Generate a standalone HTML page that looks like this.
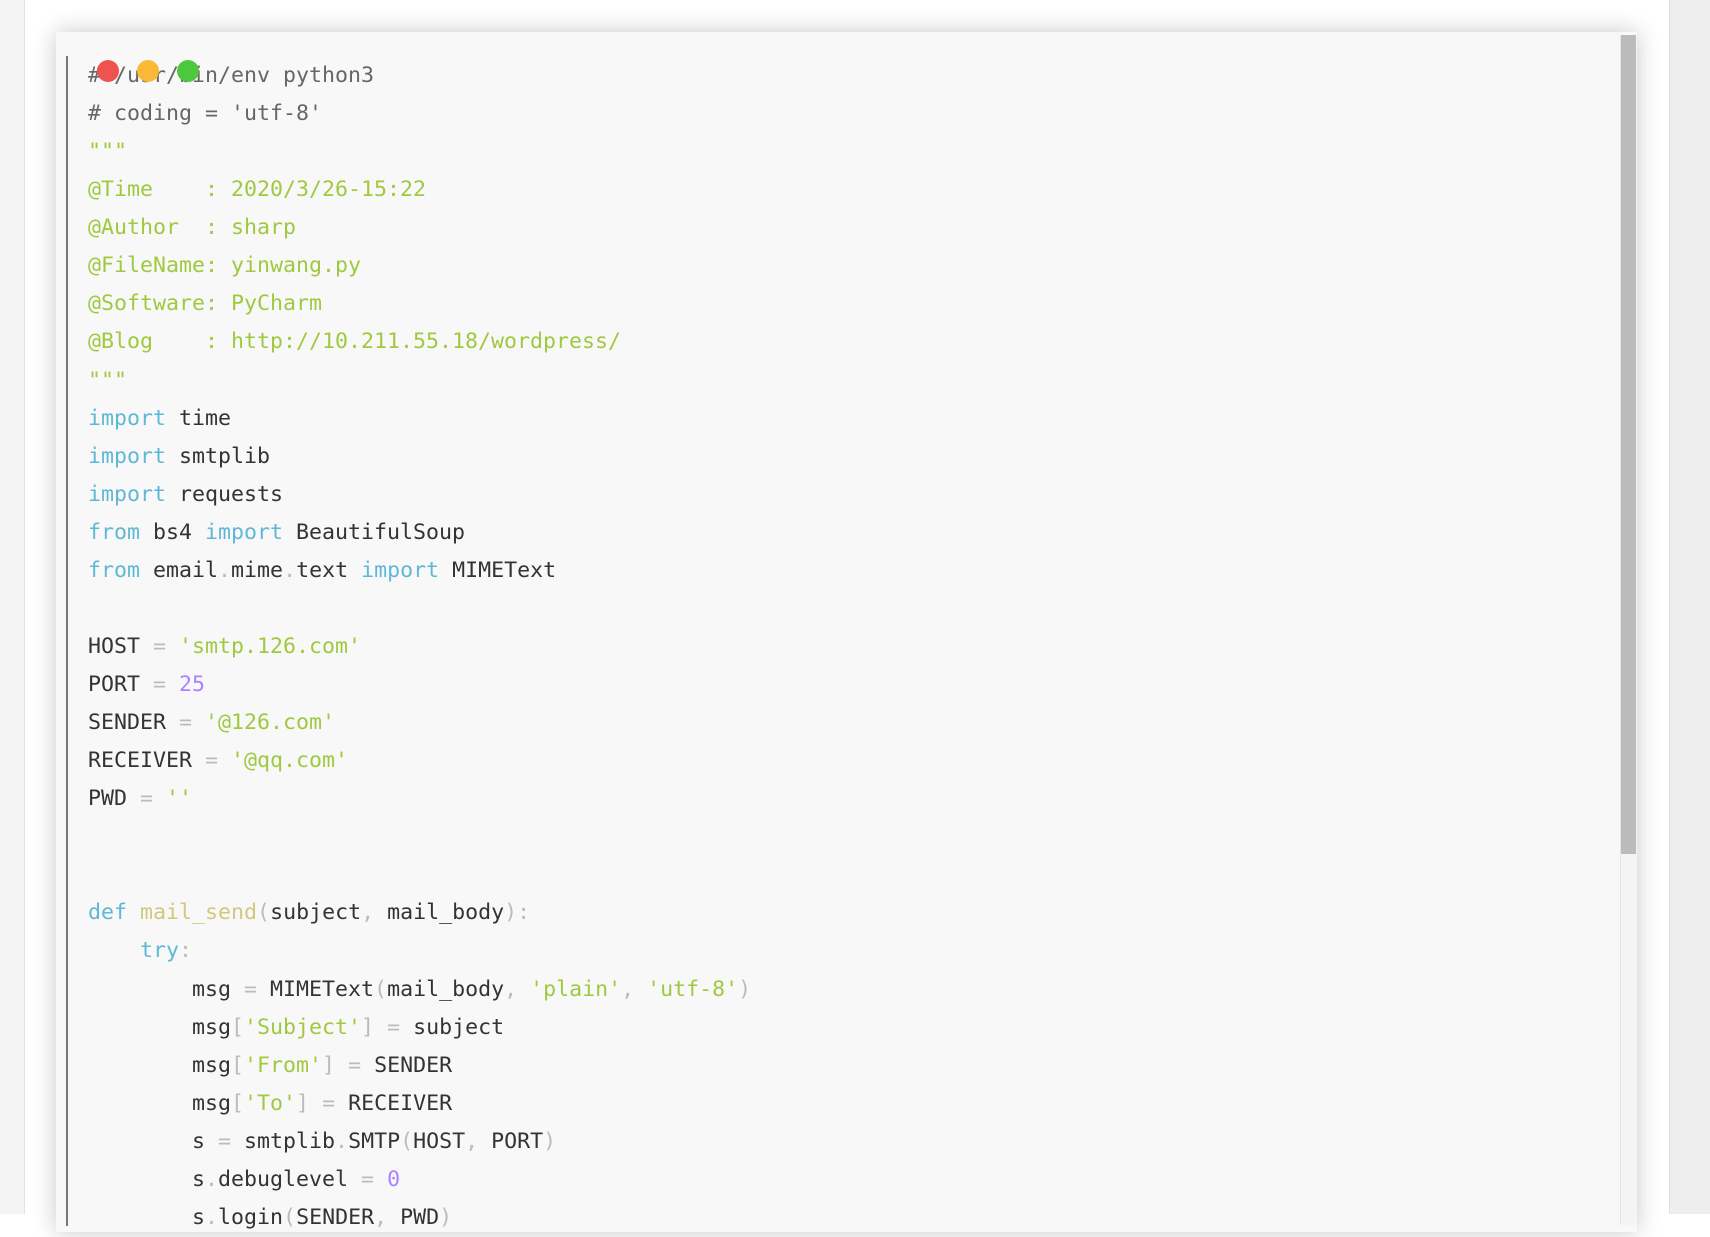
<!DOCTYPE html>
<html><head><meta charset="utf-8"><style>
html,body{margin:0;padding:0;width:1710px;height:1214px;overflow:hidden;background:#fff}
.lg{position:absolute;left:0;top:0;width:24px;height:1214px;background:#f3f3f3;border-right:1px solid #e4e4e4}
.rg{position:absolute;left:1669px;top:0;width:41px;height:1214px;background:#eeeeee;border-left:1px solid #e0e0e0}
.card{position:absolute;left:56px;top:32px;width:1581px;height:1200px;background:#f8f8f8;box-shadow:0 0 22px rgba(0,0,0,.22)}
.bar{position:absolute;left:66px;top:56px;width:2px;height:1170px;background:#777}
.sb{position:absolute;left:1620px;top:35px;width:16px;height:1190px;background:#f4f4f4;border-left:1px solid #e6e6e6}
.th{position:absolute;left:1621px;top:35px;width:15px;height:819px;background:#bbb}
.dot{position:absolute;top:60px;width:22px;height:22px;border-radius:50%}
pre{position:absolute;left:88px;top:57px;margin:0;font-family:"DejaVu Sans Mono","Liberation Mono",monospace;font-size:21.6px;line-height:38.06px;color:#333;letter-spacing:0}
.c{color:#666}.d{color:#9fc93f}.k{color:#5fb8d6}.s{color:#9fc93f}.n{color:#ae81ff}.p{color:#bbb}.f{color:#d4c77c}
</style></head><body>
<div class="lg"></div><div class="rg"></div>
<div class="card"></div>
<div class="bar"></div>
<div class="sb"></div><div class="th"></div>
<pre><span class="c">#!/usr/bin/env python3</span>
<span class="c"># coding = 'utf-8'</span>
<span class="d">"""</span>
<span class="d">@Time    : 2020/3/26-15:22</span>
<span class="d">@Author  : sharp</span>
<span class="d">@FileName: yinwang.py</span>
<span class="d">@Software: PyCharm</span>
<span class="d">@Blog    : http://10.211.55.18/wordpress/</span>
<span class="d">"""</span>
<span class="k">import</span> time
<span class="k">import</span> smtplib
<span class="k">import</span> requests
<span class="k">from</span> bs4 <span class="k">import</span> BeautifulSoup
<span class="k">from</span> email<span class="p">.</span>mime<span class="p">.</span>text <span class="k">import</span> MIMEText

HOST <span class="p">=</span> <span class="s">'smtp.126.com'</span>
PORT <span class="p">=</span> <span class="n">25</span>
SENDER <span class="p">=</span> <span class="s">'@126.com'</span>
RECEIVER <span class="p">=</span> <span class="s">'@qq.com'</span>
PWD <span class="p">=</span> <span class="s">''</span>


<span class="k">def</span> <span class="f">mail_send</span><span class="p">(</span>subject<span class="p">,</span> mail_body<span class="p">):</span>
    <span class="k">try</span><span class="p">:</span>
        msg <span class="p">=</span> MIMEText<span class="p">(</span>mail_body<span class="p">,</span> <span class="s">'plain'</span><span class="p">,</span> <span class="s">'utf-8'</span><span class="p">)</span>
        msg<span class="p">[</span><span class="s">'Subject'</span><span class="p">]</span> <span class="p">=</span> subject
        msg<span class="p">[</span><span class="s">'From'</span><span class="p">]</span> <span class="p">=</span> SENDER
        msg<span class="p">[</span><span class="s">'To'</span><span class="p">]</span> <span class="p">=</span> RECEIVER
        s <span class="p">=</span> smtplib<span class="p">.</span>SMTP<span class="p">(</span>HOST<span class="p">,</span> PORT<span class="p">)</span>
        s<span class="p">.</span>debuglevel <span class="p">=</span> <span class="n">0</span>
        s<span class="p">.</span>login<span class="p">(</span>SENDER<span class="p">,</span> PWD<span class="p">)</span></pre>
<div class="dot" style="left:97px;background:#ef5350"></div>
<div class="dot" style="left:137px;background:#f9b936"></div>
<div class="dot" style="left:177px;background:#4cc83f"></div>
</body></html>
